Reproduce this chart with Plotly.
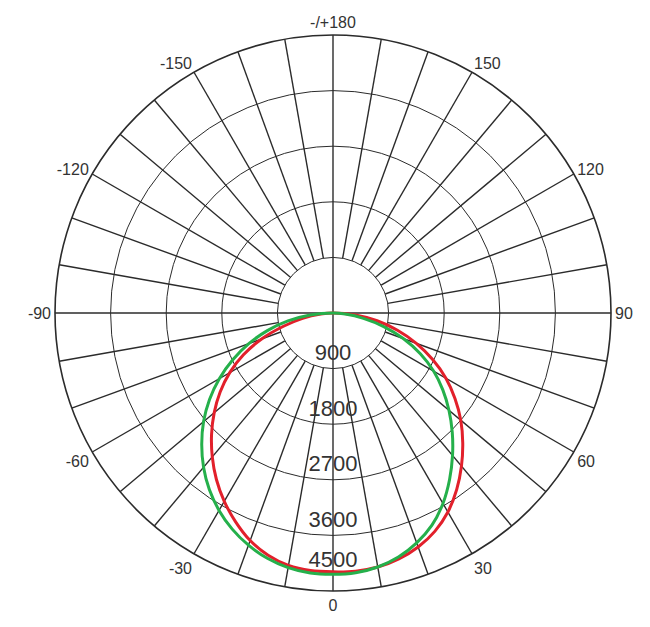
import plotly.graph_objects as go

# ---- data ----
angles = [-90, -85, -80, -75, -70, -65, -60, -55, -50, -45, -40, -35, -30, -25, -20, -15, -10, -5,
          0, 5, 10, 15, 20, 25, 30, 35, 40, 45, 50, 55, 60, 65, 70, 75, 80, 85, 90]
green_vals = [0, 370, 740, 1100, 1450, 1790, 2125, 2440, 2735, 3005, 3260, 3490, 3690, 3860, 4000, 4110, 4185, 4225,
              4230, 4220, 4175, 4090, 3960, 3790, 3560, 3290, 3010, 2730, 2450, 2170, 1880, 1560, 1210, 850, 500, 200, 0]
red_vals = [0, 200, 500, 830, 1230, 1600, 1930, 2230, 2510, 2780, 3040, 3290, 3520, 3730, 3920, 4060, 4150, 4185,
            4190, 4195, 4175, 4120, 4030, 3900, 3720, 3490, 3235, 2970, 2700, 2410, 2110, 1780, 1435, 1080, 725, 365, 0]
ring_vals = [900, 1800, 2700, 3600, 4500]
ring_labels = ["900", "1800", "2700", "3600", "4500"]
tick_angles = [0, 30, 60, 90, 120, 150, 180, 210, 240, 270, 300, 330]
tick_labels = ["0", "30", "60", "90", "120", "150", "-/+180", "-150", "-120", "-90", "-60", "-30"]

GRID = "#2b2b2b"
FONT = "Liberation Sans, Arial, sans-serif"
rmax = ring_vals[-1]

fig = go.Figure()

# spokes every 10 degrees (inner disc left empty except the main axes)
sr, st = [], []
for a in range(0, 360, 10):
    r0 = 0 if a % 90 == 0 else ring_vals[0]
    sr += [r0, rmax, None]
    st += [a, a, None]
fig.add_trace(go.Scatterpolar(r=sr, theta=st, mode="lines",
                              line=dict(color=GRID, width=1.4), hoverinfo="skip"))

fig.add_trace(go.Scatterpolar(r=red_vals, theta=angles, mode="lines",
                              line=dict(color="#e2202b", width=3, shape="spline", smoothing=0.8),
                              hoverinfo="skip"))
fig.add_trace(go.Scatterpolar(r=green_vals, theta=angles, mode="lines",
                              line=dict(color="#25b04b", width=3, shape="spline", smoothing=0.8),
                              hoverinfo="skip"))

# radial value labels, just inside each ring
step = ring_vals[1] - ring_vals[0]
label_r = [v - 0.25 * step for v in ring_vals[:-1]] + [ring_vals[-1] - 0.53 * step]
fig.add_trace(go.Scatterpolar(r=label_r, theta=[0] * len(ring_vals), mode="text",
                              text=ring_labels, textposition="middle center",
                              textfont=dict(family=FONT, size=22, color="#333333"), hoverinfo="skip"))

fig.update_layout(
    width=650, height=627,
    margin=dict(l=47, r=47, t=27, b=44),
    paper_bgcolor="white", plot_bgcolor="white",
    showlegend=False,
    font=dict(family=FONT, size=16, color="#333333"),
    polar=dict(
        bgcolor="white",
        domain=dict(x=[0, 1], y=[0, 1]),
        radialaxis=dict(range=[0, rmax], tickvals=ring_vals, showticklabels=False, ticks="",
                        showline=False, gridcolor=GRID, gridwidth=1.4),
        angularaxis=dict(rotation=270, direction="counterclockwise", thetaunit="degrees",
                         tickvals=tick_angles, ticktext=tick_labels, ticks="",
                         showgrid=False, showline=True, linecolor=GRID, linewidth=1.6,
                         tickfont=dict(family=FONT, size=16, color="#333333")),
    ),
)

fig.write_html("out.html")
